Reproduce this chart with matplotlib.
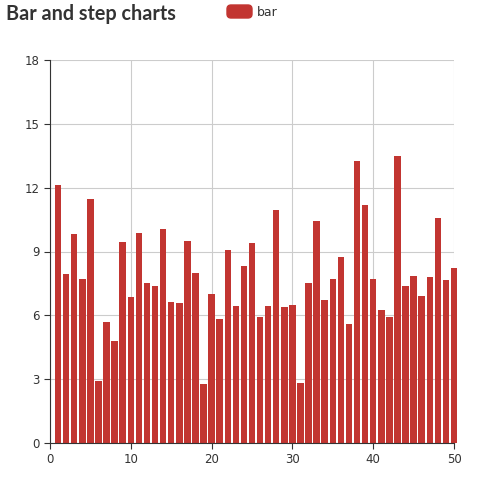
import matplotlib.pyplot as plt
from matplotlib.patches import FancyBboxPatch

x = list(range(1, 51))
values = [12.11, 7.95, 9.83, 7.73, 11.48, 2.91, 5.70, 4.80, 9.45, 6.86,
          9.86, 7.50, 7.38, 10.06, 6.64, 6.56, 9.47, 7.97, 2.78, 6.98,
          5.81, 9.09, 6.45, 8.34, 9.41, 5.92, 6.45, 10.97, 6.41, 6.47,
          2.80, 7.50, 10.41, 6.73, 7.69, 8.73, 5.61, 13.25, 11.19, 7.69,
          6.27, 5.92, 13.47, 7.36, 7.84, 6.89, 7.78, 10.59, 7.66, 8.22]
yticks = [0, 3, 6, 9, 12, 15, 18]
xticks = [0, 10, 20, 30, 40, 50]

red = '#c23531'
dark = '#333333'

fig = plt.figure(figsize=(5.04, 5.04), dpi=100)
ax = fig.add_axes([50 / 504, 1 - 443 / 504, 404 / 504, 383 / 504])
ax.bar(x, values, width=0.8, color=red, zorder=3, clip_on=False)
ax.set_xlim(0, 50)
ax.set_ylim(0, 18)
ax.set_xticks(xticks)
ax.set_yticks(yticks)
ax.grid(color='#cccccc', lw=0.8, zorder=0)
for s in ['top', 'right']:
    ax.spines[s].set_visible(False)
for s in ['left', 'bottom']:
    ax.spines[s].set_color(dark)
    ax.spines[s].set_zorder(4)
ax.tick_params(colors=dark, labelsize=8.5, length=4, width=0.8)

fig.text(6 / 504, 1 - 14 / 504, 'Bar and step charts', fontsize=14.2,
         fontweight='bold', color=dark, va='center', ha='left',
         family='Lato')
fig.patches.append(FancyBboxPatch((227 / 504, 1 - 18 / 504), 25 / 504, 13 / 504,
                                  boxstyle='round,pad=0,rounding_size=0.008',
                                  transform=fig.transFigure, color=red))
fig.text(257 / 504, 1 - 12 / 504, 'bar', fontsize=9, color=dark,
         va='center', ha='left')

fig.savefig('out.png', dpi=100)
